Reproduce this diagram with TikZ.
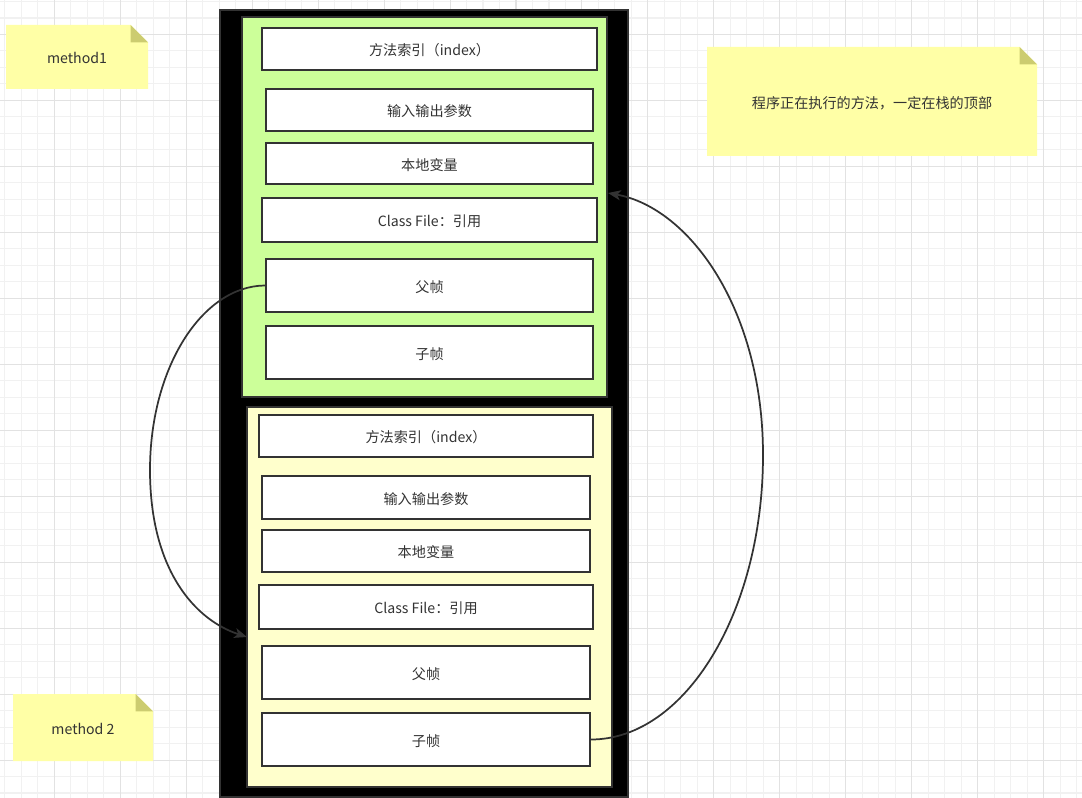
\documentclass[tikz,border=0pt]{standalone}
\usepackage{fontspec}
\setmainfont{Noto Sans CJK SC}
\usetikzlibrary{arrows.meta}
\definecolor{c333}{RGB}{51,51,51}
\definecolor{gmin}{RGB}{241,241,241}
\definecolor{gmaj}{RGB}{226,226,226}
\definecolor{greenbg}{HTML}{CCFF99}
\definecolor{yellowbg}{HTML}{FFFFCC}
\definecolor{notefill}{HTML}{FFFFA6}
\definecolor{foldfill}{HTML}{CCCC70}
\newcommand\bx[7]{\node[#1, minimum width={(#4-#2)*0.75pt}, minimum height={(#5-#3)*0.75pt}] (#6) at ({(#2+#4)/2},{(#3+#5)/2}) {#7};}
\tikzset{
  gridminor/.style={draw=gmin, line width=0.8pt},
  gridmajor/.style={draw=gmaj, line width=0.8pt},
  stackbox/.style={draw=c333, line width=1.5pt, fill=black, inner sep=0pt},
  framebox/.style={draw=c333, line width=1.5pt, inner sep=0pt},
  celltext/.style={text=c333, font=\fontsize{10.6pt}{12pt}\selectfont, text height=10pt, text depth=0pt},
  cellbox/.style={draw=c333, line width=1.5pt, fill=white, inner sep=0pt, celltext},
  notebox/.style={inner sep=0pt, celltext,
    path picture={
      \fill[notefill] (path picture bounding box.south west) -- (path picture bounding box.north west)
        -- ([xshift=-13pt]path picture bounding box.north east) -- ([yshift=-13pt]path picture bounding box.north east)
        -- (path picture bounding box.south east) -- cycle;
      \fill[foldfill] ([xshift=-13pt]path picture bounding box.north east) -- ([xshift=-13pt,yshift=-13pt]path picture bounding box.north east)
        -- ([yshift=-13pt]path picture bounding box.north east) -- cycle;
    }},
  conn/.style={draw=c333, line width=1.3pt, -{Stealth[length=9.5pt, width=7.5pt, inset=2.5pt]}}
}
\begin{document}
\begin{tikzpicture}[x=0.75pt, y=-0.75pt]
\useasboundingbox (0,0) rectangle (1082,798);
\fill[white] (0,0) rectangle (1082,798);
% grid
\foreach \i in {0,...,65}{\pgfmathsetmacro\gx{4.8+\i*16.49}\draw[gridminor] (\gx,0) -- (\gx,798);}
\foreach \i in {0,...,48}{\pgfmathsetmacro\gy{1.5+\i*16.49}\draw[gridminor] (0,\gy) -- (1082,\gy);}
\foreach \i in {3,7,...,63}{\pgfmathsetmacro\gx{4.8+\i*16.49}\draw[gridmajor] (\gx,0) -- (\gx,798);}
\foreach \i in {2,6,...,46}{\pgfmathsetmacro\gy{1.5+\i*16.49}\draw[gridmajor] (0,\gy) -- (1082,\gy);}

% stack
\bx{stackbox}{220}{10}{628}{797}{stack}{}
\bx{framebox, fill=greenbg}{242}{17}{607}{397}{green}{}
\bx{framebox, fill=yellowbg}{247}{407}{612}{787}{yellow}{}

\bx{cellbox}{262}{28}{597}{70}{g1}{方法索引（index）}
\bx{cellbox}{266}{89}{593}{131}{g2}{输入输出参数}
\bx{cellbox}{266}{143}{593}{184}{g3}{本地变量}
\bx{cellbox}{262}{198}{597}{242}{g4}{Class File：引用}
\bx{cellbox}{266}{259}{593}{312}{g5}{父帧}
\bx{cellbox}{266}{326}{593}{379}{g6}{子帧}

\bx{cellbox}{259}{415}{593}{457}{y1}{方法索引（index）}
\bx{cellbox}{262}{476}{590}{519}{y2}{输入输出参数}
\bx{cellbox}{262}{530}{590}{572}{y3}{本地变量}
\bx{cellbox}{259}{585}{593}{629}{y4}{Class File：引用}
\bx{cellbox}{262}{646}{590}{699}{y5}{父帧}
\bx{cellbox}{262}{713}{590}{766}{y6}{子帧}

% notes
\bx{notebox}{6}{25}{148}{89}{n1}{method1}
\bx{notebox}{13}{694}{153}{761}{n2}{method 2}
\bx{notebox}{707}{47}{1037}{156}{n3}{程序正在执行的方法，一定在栈的顶部}

% connectors
\coordinate (a1) at (247,637);
\coordinate (a2) at (608,193);
\draw[conn] (g5.west) .. controls (202,286) and (150,368) .. (150,470)
  .. controls (150,570) and (195,620) .. (a1);
\draw[conn] (y6.east) .. controls (685,739.5) and (763,612) .. (763,455)
  .. controls (763,310) and (690,208) .. (a2);
\end{tikzpicture}
\end{document}
